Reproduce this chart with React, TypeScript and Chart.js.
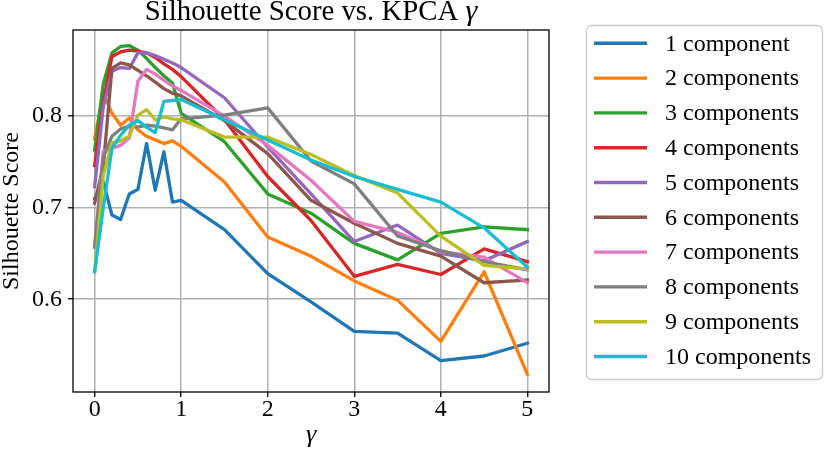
import React, { useEffect, useRef } from "react";
import { Chart, registerables } from "chart.js";

Chart.register(...registerables);

const gammas = [0, 0.1, 0.2, 0.3, 0.4, 0.5, 0.6, 0.7, 0.8, 0.9, 1.0, 1.5, 2.0, 2.5, 3.0, 3.5, 4.0, 4.5, 5.0];

const seriesLabels = [
  "1 component",
  "2 components",
  "3 components",
  "4 components",
  "5 components",
  "6 components",
  "7 components",
  "8 components",
  "9 components",
  "10 components",
];

const comp1 = [0.71, 0.728, 0.692, 0.687, 0.715, 0.72, 0.77, 0.719, 0.761, 0.706, 0.708, 0.676, 0.628, 0.597, 0.565, 0.563, 0.533, 0.538, 0.552];
const comp2 = [0.775, 0.825, 0.803, 0.79, 0.798, 0.785, 0.778, 0.774, 0.77, 0.773, 0.767, 0.728, 0.668, 0.647, 0.62, 0.599, 0.554, 0.63, 0.518];
const comp3 = [0.763, 0.835, 0.869, 0.876, 0.877, 0.872, 0.863, 0.853, 0.844, 0.836, 0.803, 0.772, 0.715, 0.694, 0.661, 0.643, 0.672, 0.679, 0.676];
const comp4 = [0.746, 0.815, 0.865, 0.87, 0.872, 0.871, 0.869, 0.864, 0.857, 0.851, 0.843, 0.796, 0.734, 0.686, 0.625, 0.638, 0.627, 0.655, 0.641];
const comp5 = [0.723, 0.81, 0.849, 0.853, 0.852, 0.869, 0.869, 0.866, 0.862, 0.858, 0.853, 0.82, 0.766, 0.715, 0.663, 0.681, 0.65, 0.642, 0.663];
const comp6 = [0.705, 0.745, 0.852, 0.858, 0.856, 0.85, 0.844, 0.837, 0.83, 0.825, 0.822, 0.795, 0.759, 0.708, 0.683, 0.661, 0.647, 0.618, 0.621];
const comp7 = [0.657, 0.762, 0.765, 0.768, 0.776, 0.838, 0.851, 0.846, 0.839, 0.833, 0.828, 0.8, 0.768, 0.73, 0.685, 0.673, 0.652, 0.646, 0.618];
const comp8 = [0.657, 0.755, 0.778, 0.786, 0.789, 0.788, 0.79, 0.789, 0.787, 0.785, 0.797, 0.801, 0.809, 0.751, 0.726, 0.669, 0.653, 0.641, 0.632];
const comp9 = [0.63, 0.735, 0.771, 0.773, 0.778, 0.801, 0.807, 0.796, 0.799, 0.797, 0.796, 0.777, 0.777, 0.758, 0.735, 0.716, 0.669, 0.637, 0.633];
const comp10 = [0.63, 0.7, 0.765, 0.779, 0.79, 0.795, 0.788, 0.782, 0.816, 0.817, 0.818, 0.796, 0.774, 0.752, 0.734, 0.72, 0.706, 0.678, 0.635];

const seriesValues = [comp1, comp2, comp3, comp4, comp5, comp6, comp7, comp8, comp9, comp10];

const colors = ["#1f77b4", "#ff7f0e", "#2ca02c", "#d62728", "#9467bd", "#8c564b", "#e377c2", "#7f7f7f", "#bcbd22", "#17becf"];

const xTicks = [0, 1, 2, 3, 4, 5];
const yTicks = [0.6, 0.7, 0.8];

const titleText = "Silhouette Score vs. KPCA ";
const titleSymbol = "γ";
const xLabel = "γ";
const yLabel = "Silhouette Score";

const FONT = '"Liberation Serif", "Times New Roman", serif';

const decorPlugin = {
  id: "decor",
  afterDraw(chart: any) {
    const { ctx, chartArea: a } = chart;
    ctx.save();
    // frame (spines)
    ctx.strokeStyle = "#000";
    ctx.lineWidth = 1.3;
    ctx.strokeRect(a.left, a.top, a.right - a.left, a.bottom - a.top);

    ctx.fillStyle = "#000";
    ctx.textBaseline = "alphabetic";
    // title
    const cx = (a.left + a.right) / 2;
    ctx.font = `28.8px ${FONT}`;
    const w1 = ctx.measureText(titleText).width;
    ctx.font = `italic 30px ${FONT}`;
    const w2 = ctx.measureText(titleSymbol).width;
    const x0 = cx - (w1 + w2) / 2;
    ctx.textAlign = "left";
    ctx.font = `28.8px ${FONT}`;
    ctx.fillText(titleText, x0, 20);
    ctx.font = `italic 30px ${FONT}`;
    ctx.fillText(titleSymbol, x0 + w1, 20);

    // x label
    ctx.textAlign = "center";
    ctx.font = `italic 26px ${FONT}`;
    ctx.fillText(xLabel, cx, 442);

    // y label
    ctx.save();
    ctx.translate(18, (a.top + a.bottom) / 2);
    ctx.rotate(-Math.PI / 2);
    ctx.font = `24px ${FONT}`;
    ctx.fillText(yLabel, 0, 0);
    ctx.restore();

    // legend
    const lx = 586, ly = 25, lw = 237, lh = 355;
    ctx.beginPath();
    ctx.roundRect(lx + 0.5, ly + 0.5, lw - 1, lh - 1, 5);
    ctx.fillStyle = "rgba(255,255,255,0.8)";
    ctx.fill();
    ctx.strokeStyle = "#cccccc";
    ctx.lineWidth = 1.3;
    ctx.stroke();

    ctx.font = `24px ${FONT}`;
    ctx.textAlign = "left";
    ctx.textBaseline = "middle";
    seriesLabels.forEach((lab, i) => {
      const y = 43.3 + i * 34.8;
      ctx.beginPath();
      ctx.moveTo(594, y);
      ctx.lineTo(647, y);
      ctx.strokeStyle = colors[i];
      ctx.lineWidth = 3.4;
      ctx.lineCap = "butt";
      ctx.stroke();
      ctx.fillStyle = "#000";
      ctx.fillText(lab, 665, y + 1);
    });
    ctx.restore();
  },
};

export default function App() {
  const ref = useRef<HTMLCanvasElement | null>(null);

  useEffect(() => {
    if (!ref.current) return;
    const n = seriesValues.length;
    const datasets = seriesValues.map((vals, i) => ({
      label: seriesLabels[i],
      data: vals.map((v, j) => ({ x: gammas[j], y: v })),
      borderColor: colors[i],
      backgroundColor: colors[i],
      borderWidth: 3.3,
      pointRadius: 0,
      tension: 0,
      borderJoinStyle: "round" as const,
      borderCapStyle: "square" as const,
      order: n - 1 - i,
    }));

    const chart = new Chart(ref.current, {
      type: "line",
      data: { datasets },
      plugins: [decorPlugin],
      options: {
        animation: false,
        responsive: true,
        maintainAspectRatio: false,
        layout: { padding: { left: 0, top: 30, right: 276, bottom: 0 } },
        plugins: {
          legend: { display: false },
          title: { display: false },
          tooltip: { enabled: false },
        },
        scales: {
          x: {
            type: "linear",
            min: -0.25,
            max: 5.25,
            afterBuildTicks: (s: any) => {
              s.ticks = xTicks.map((v) => ({ value: v }));
            },
            afterFit: (s: any) => {
              s.height = 61;
            },
            ticks: {
              color: "#000",
              font: { family: FONT, size: 24, lineHeight: 1 },
              padding: 1,
              maxRotation: 0,
              callback: (v: any) => String(v),
            },
            grid: {
              color: "#b0b0b0",
              lineWidth: 1.5,
              drawTicks: true,
              tickLength: 5,
              tickColor: "#000",
              tickWidth: 1.3,
            },
            border: { display: false },
          },
          y: {
            type: "linear",
            min: 0.4987,
            max: 0.894,
            afterBuildTicks: (s: any) => {
              s.ticks = yTicks.map((v) => ({ value: v }));
            },
            afterFit: (s: any) => {
              s.width = 73;
            },
            ticks: {
              color: "#000",
              font: { family: FONT, size: 24, lineHeight: 1 },
              padding: 6,
              callback: (v: any) => Number(v).toFixed(1),
            },
            grid: {
              color: "#b0b0b0",
              lineWidth: 1.5,
              drawTicks: true,
              tickLength: 5,
              tickColor: "#000",
              tickWidth: 1.3,
            },
            border: { display: false },
          },
        },
      },
    });
    return () => chart.destroy();
  }, []);

  return (
    <div style={{ position: "fixed", left: 0, top: 0, width: 825, height: 453, background: "#fff" }}>
      <canvas ref={ref} />
    </div>
  );
}
